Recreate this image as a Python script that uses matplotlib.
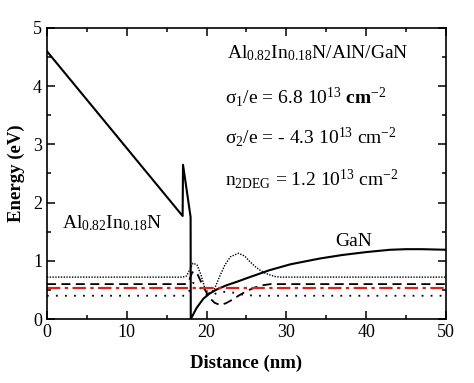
import numpy as np
import matplotlib
matplotlib.use("Agg")
import matplotlib.pyplot as plt
from matplotlib.ticker import MultipleLocator

plt.rcParams["font.family"] = ["Liberation Serif", "DejaVu Serif"]
plt.rcParams["mathtext.fontset"] = "custom"
plt.rcParams["mathtext.rm"] = "Liberation Serif"
plt.rcParams["mathtext.it"] = "Liberation Serif:italic"
plt.rcParams["mathtext.bf"] = "Liberation Serif:bold"

# conduction band edge (barrier, spike, GaN channel)
cb_x = [0, 17.0, 17.05, 18.0, 18.02, 18.75, 19.6, 20.4, 21.3, 22.5, 23.8, 25.2,
        27.9, 30.5, 34.2, 37.0, 40.0, 43.0, 45.0, 47.0, 50.0]
cb_y = [4.6, 1.77, 2.65, 1.75, 0.0, 0.19, 0.35, 0.44, 0.51, 0.58, 0.64, 0.71,
        0.84, 0.94, 1.04, 1.10, 1.15, 1.19, 1.20, 1.20, 1.19]

# wavefunction on the upper level (fine dotted)
psi1_x = [0, 17.0, 17.5, 17.9, 18.3, 18.8, 19.3, 19.8, 20.4, 21.0, 21.6, 22.3,
          23.0, 24.0, 24.8, 25.4, 26.1, 26.7, 27.3, 27.9, 28.6, 29.2, 30.0, 50]
psi1_y = [0.72, 0.72, 0.74, 0.85, 0.96, 0.93, 0.76, 0.52, 0.43, 0.52, 0.72, 0.93,
          1.07, 1.13, 1.08, 0.99, 0.90, 0.84, 0.79, 0.76, 0.73, 0.72, 0.72, 0.72]

# wavefunction on the middle level (dashed)
psi2_x = [0, 17.3, 17.8, 18.2, 18.5, 18.9, 19.3, 19.8, 20.4, 21.0, 21.7, 22.4,
          23.2, 24.0, 25.0, 26.0, 27.0, 28.0, 50]
psi2_y = [0.60, 0.60, 0.66, 0.80, 0.82, 0.76, 0.64, 0.50, 0.36, 0.28, 0.24, 0.27,
          0.33, 0.40, 0.48, 0.54, 0.58, 0.60, 0.60]

# wavefunction on the lowest level (sparse dotted)
psi3_x = [0, 17.5, 17.9, 18.3, 18.8, 19.4, 20.0, 20.8, 21.6, 22.5, 23.5, 24.5, 26.0, 50]
psi3_y = [0.40, 0.40, 0.50, 0.62, 0.60, 0.50, 0.42, 0.42, 0.46, 0.47, 0.45, 0.42, 0.40, 0.40]

fermi_x = [0, 50]
fermi_y = [0.53, 0.53]

fig = plt.figure(figsize=(4.74, 3.83), dpi=100)
ax = fig.add_axes([0.099, 0.167, 0.842, 0.760])

ax.plot(cb_x, cb_y, color="black", lw=1.5)
ax.plot(psi1_x, psi1_y, color="black", lw=1.0, linestyle=(0, (1, 1)))
ax.plot(psi2_x, psi2_y, color="black", lw=1.3, linestyle=(0, (5, 3)))
ax.plot(psi3_x, psi3_y, color="black", lw=1.3, linestyle=(0, (1, 4)))
ax.plot(fermi_x, fermi_y, color="#e0201a", lw=1.6, linestyle=(0, (6, 2, 1.5, 2)))

ax.set_xlim(0, 50)
ax.set_ylim(0, 5)
ax.xaxis.set_major_locator(MultipleLocator(10))
ax.xaxis.set_minor_locator(MultipleLocator(5))
ax.yaxis.set_major_locator(MultipleLocator(1))
ax.yaxis.set_minor_locator(MultipleLocator(0.5))
ax.tick_params(which="both", direction="in", top=True, right=True, width=1.1)
ax.tick_params(which="major", length=6, labelsize=13)
ax.tick_params(which="minor", length=3)
for s in ax.spines.values():
    s.set_linewidth(1.2)

ax.set_xlabel("Distance (nm)", fontsize=13.5, fontweight="bold", labelpad=10)
ax.set_ylabel("Energy (eV)", fontsize=13.5, fontweight="bold", labelpad=6)

fs = 14
ax.text(22.5, 4.57, r"Al$_{0.82}$In$_{0.18}$N/AlN/GaN", fontsize=fs, va="center")
ax.text(22.3, 3.82, r"σ$_1$/e = 6.8 10$^{13}$ $\mathbf{cm}^{-2}$", fontsize=fs, va="center")
ax.text(22.3, 3.13, r"σ$_2$/e = - 4.3 10$^{13}$ cm$^{-2}$", fontsize=fs, va="center")
ax.text(22.3, 2.40, r"n$_{\mathrm{2DEG}}$ = 1.2 10$^{13}$ cm$^{-2}$", fontsize=fs, va="center")
ax.text(1.9, 1.65, r"Al$_{0.82}$In$_{0.18}$N", fontsize=fs, va="center")
ax.text(36.1, 1.34, "GaN", fontsize=fs, va="center")

fig.savefig("out.png", dpi=100)
